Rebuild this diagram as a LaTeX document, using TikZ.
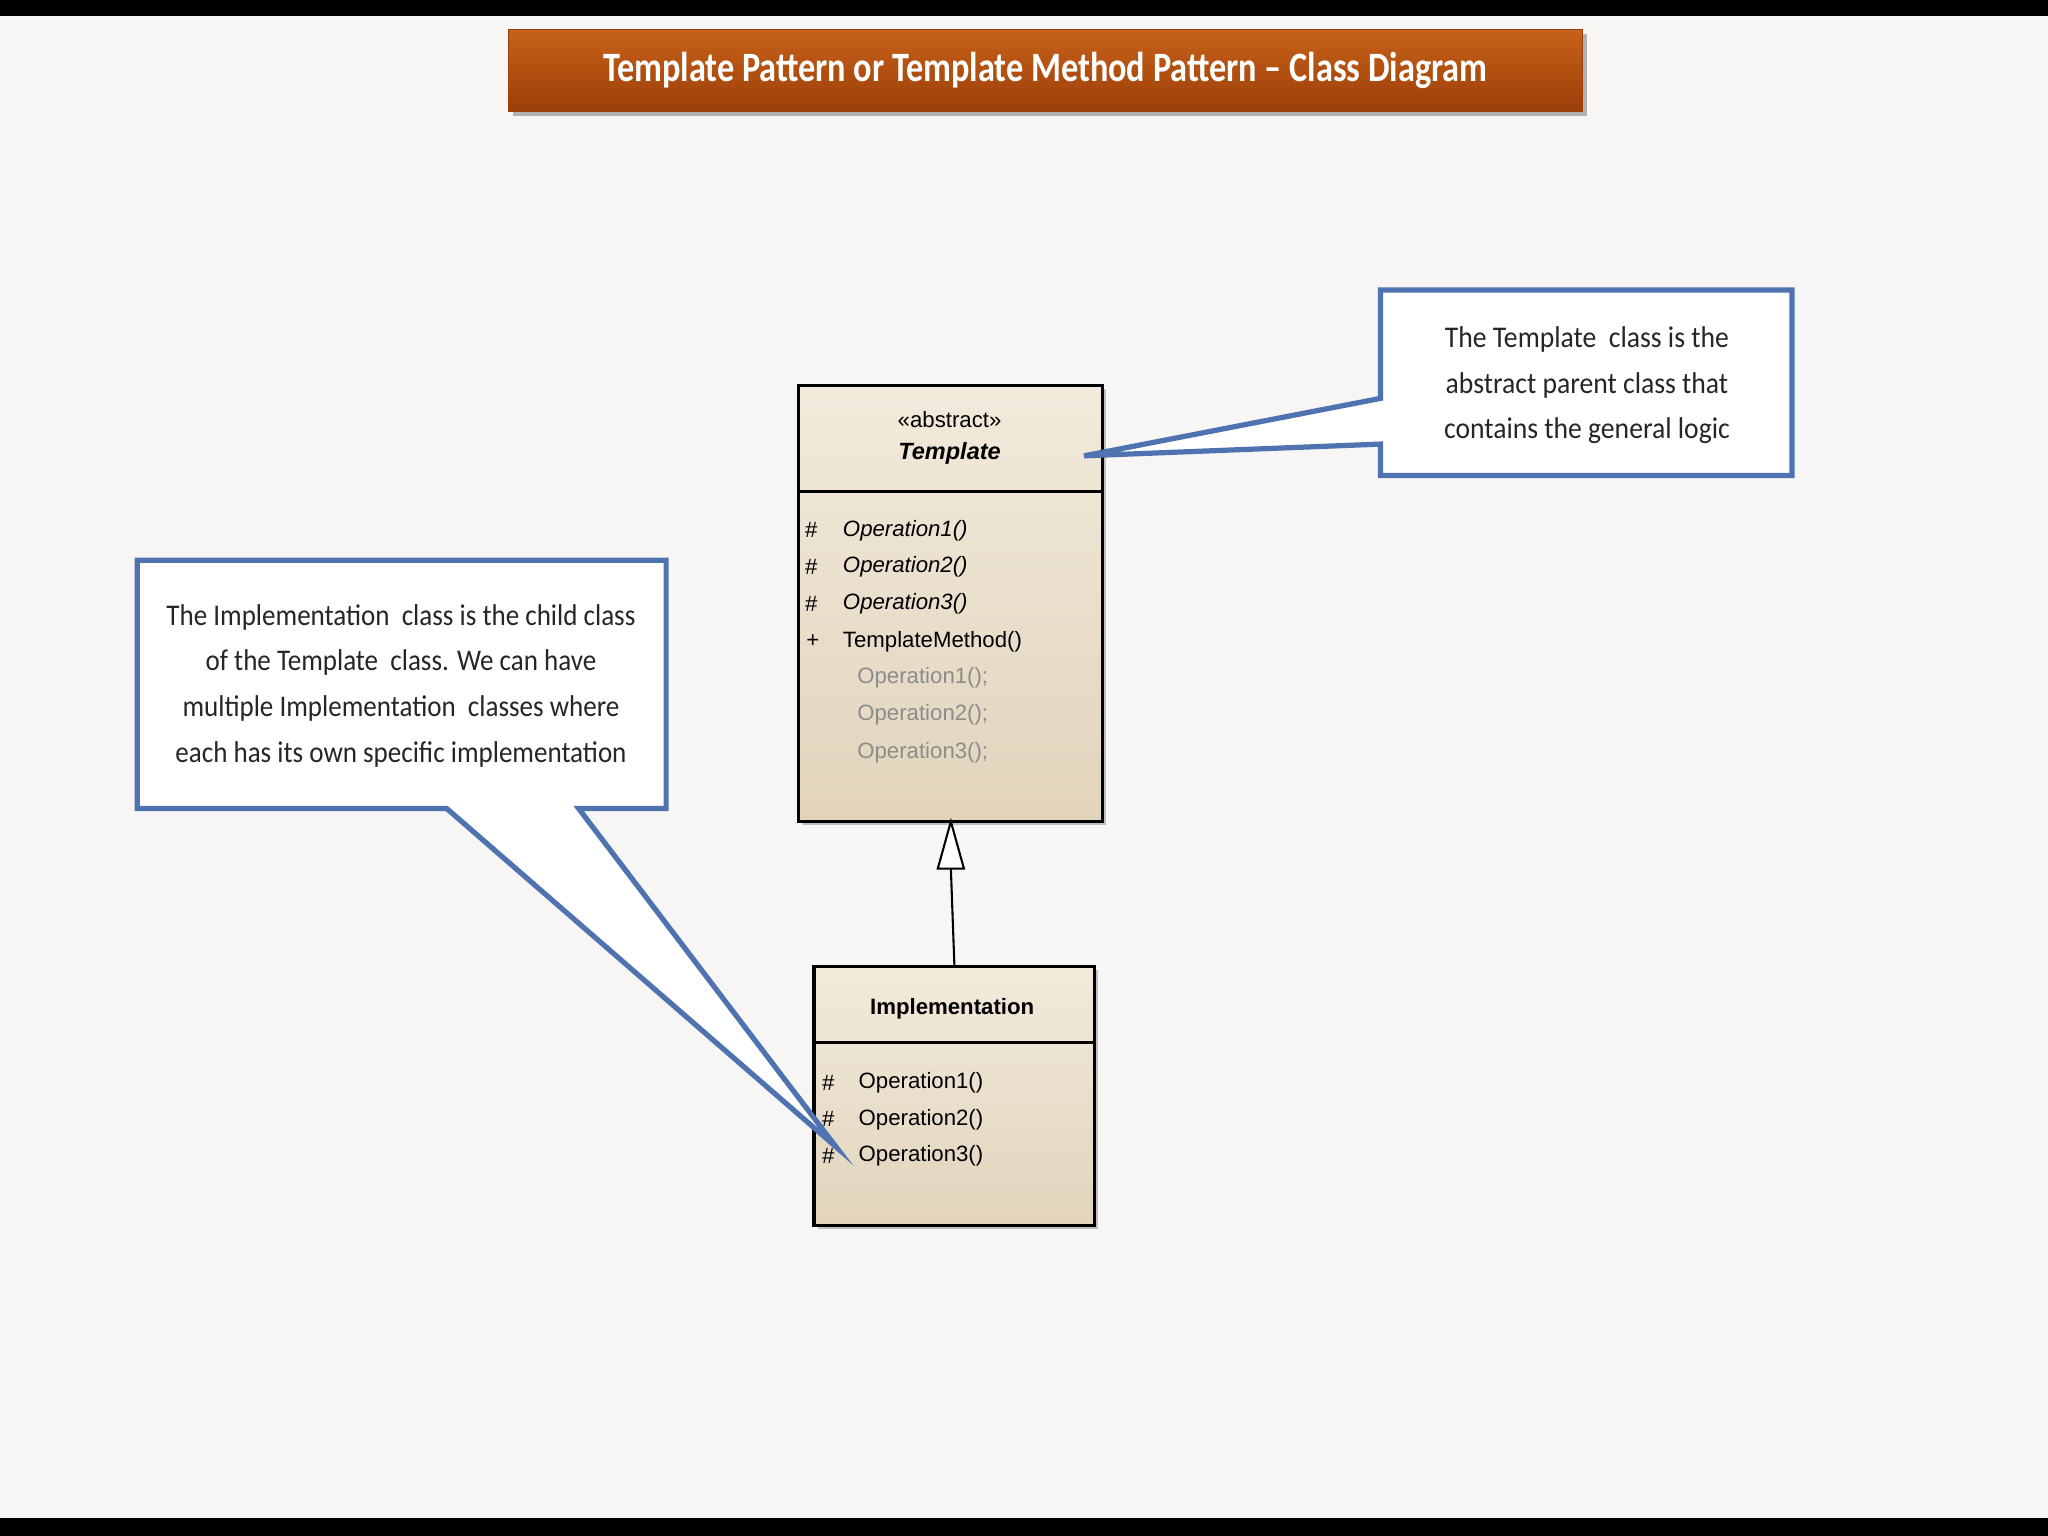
\documentclass[tikz,border=0pt]{standalone}
\usepackage{fontspec}
\setmainfont{Carlito}
\newfontfamily\cls{Liberation Sans}
\definecolor{bgc}{HTML}{F7F6F4}
\definecolor{callb}{HTML}{4F72B0}
\definecolor{beigeA}{HTML}{F2EADC}
\definecolor{beigeB}{HTML}{E2D4BC}
\definecolor{tA}{HTML}{C8621A}
\definecolor{tB}{HTML}{9C3E08}
\tikzset{
 classbox/.style={draw=black,line width=1.2pt,top color=beigeA,bottom color=beigeB},
 shadowbox/.style={fill=black!25,draw=none},
 callout/.style={draw=callb,line width=2pt,fill=white,line join=miter},
 ctext/.style={align=center,font=\fontsize{11.5}{17.5}\selectfont,text=black!85},
 op/.style={anchor=west,font=\cls\fontsize{8.5}{10}\selectfont,inner sep=0pt},
}
\begin{document}
\begin{tikzpicture}[x=0.5pt,y=-0.5pt]
\useasboundingbox (0,0) rectangle (1568,1176);
\fill[bgc] (0,0) rectangle (1568,1176);
\fill[black] (0,0) rectangle (1568,12);
\fill[black] (0,1162) rectangle (1568,1176);
% title
\fill[black!30] (393,26) rectangle (1215,89);
\node[draw=tB,top color=tA,bottom color=tB,minimum width=411pt,minimum height=31.5pt,anchor=north west,inner sep=0pt] (title) at (389,22) {};
\node[text=white,font=\bfseries\fontsize{16}{18}\selectfont] at (title.center) {\scalebox{0.82}[1]{Template Pattern or Template Method Pattern -- Class Diagram}};
% template class
\fill[shadowbox] (614,298) rectangle (847,632);
\node[classbox,anchor=north west,minimum width=116.5pt,minimum height=167pt,inner sep=0pt] (tmpl) at (610,294) {};
\draw[line width=1.2pt] (610,376) -- (843,376);
\node[font=\cls\fontsize{8.5}{10}\selectfont] at (727,321) {«abstract»};
\node[font=\cls\bfseries\itshape\fontsize{9}{10}\selectfont] at (727,347) {Template};
\foreach \y/\s/\t in {406/\#/Operation1(),434/\#/Operation2(),462/\#/Operation3()}{
 \node[op] at (616,\y) {\s};
 \node[op,font=\cls\itshape\fontsize{8.5}{10}\selectfont] at (645,\y) {\t};}
\node[op] at (617,491) {+};
\node[op] at (645,491) {TemplateMethod()};
\foreach \y/\t in {519/Operation1();,547/Operation2();,576/Operation3();}
 \node[op,text=black!45] at (656,\y) {\t};
% implementation class
\fill[shadowbox] (626,743) rectangle (841,941);
\node[classbox,anchor=north west,minimum width=107.5pt,minimum height=99pt,inner sep=0pt] (impl) at (622,739) {};
\draw[line width=1.2pt] (622,798) -- (837,798);
\node[font=\cls\bfseries\fontsize{8.5}{10}\selectfont] at (729,772) {Implementation};
\foreach \y/\t in {829/Operation1(),857/Operation2(),885/Operation3()}{
 \node[op] at (629,\y) {\#};
 \node[op] at (657,\y) {\t};}
% inheritance
\draw[line width=0.8pt] (impl.north) -- (728,665);
\draw[line width=0.8pt,fill=white] (728,629) -- (738,665) -- (718,665) -- cycle;
% right callout
\draw[callout] (1057,222) -- (1372,222) -- (1372,364) -- (1057,364) -- (1057,340) -- (830,349) -- (1057,305) -- cycle;
\node[ctext] (rc) at (1215,295) {\scalebox{0.92}[1]{The Template\ \ class is the}\\\scalebox{0.92}[1]{abstract parent class that}\\\scalebox{0.92}[1]{contains the general logic}};
% left callout
\draw[callout] (105,429) -- (510,429) -- (510,619) -- (443,619) -- (640,878) -- (342,619) -- (105,619) -- cycle;
\node[ctext] (lc) at (307,525) {\scalebox{0.9}[1]{The Implementation\ \ class is the child class}\\\scalebox{0.9}[1]{of the Template\ \ class. We can have}\\\scalebox{0.9}[1]{multiple Implementation\ \ classes where}\\\scalebox{0.9}[1]{each has its own specific implementation}};
\end{tikzpicture}
\end{document}
